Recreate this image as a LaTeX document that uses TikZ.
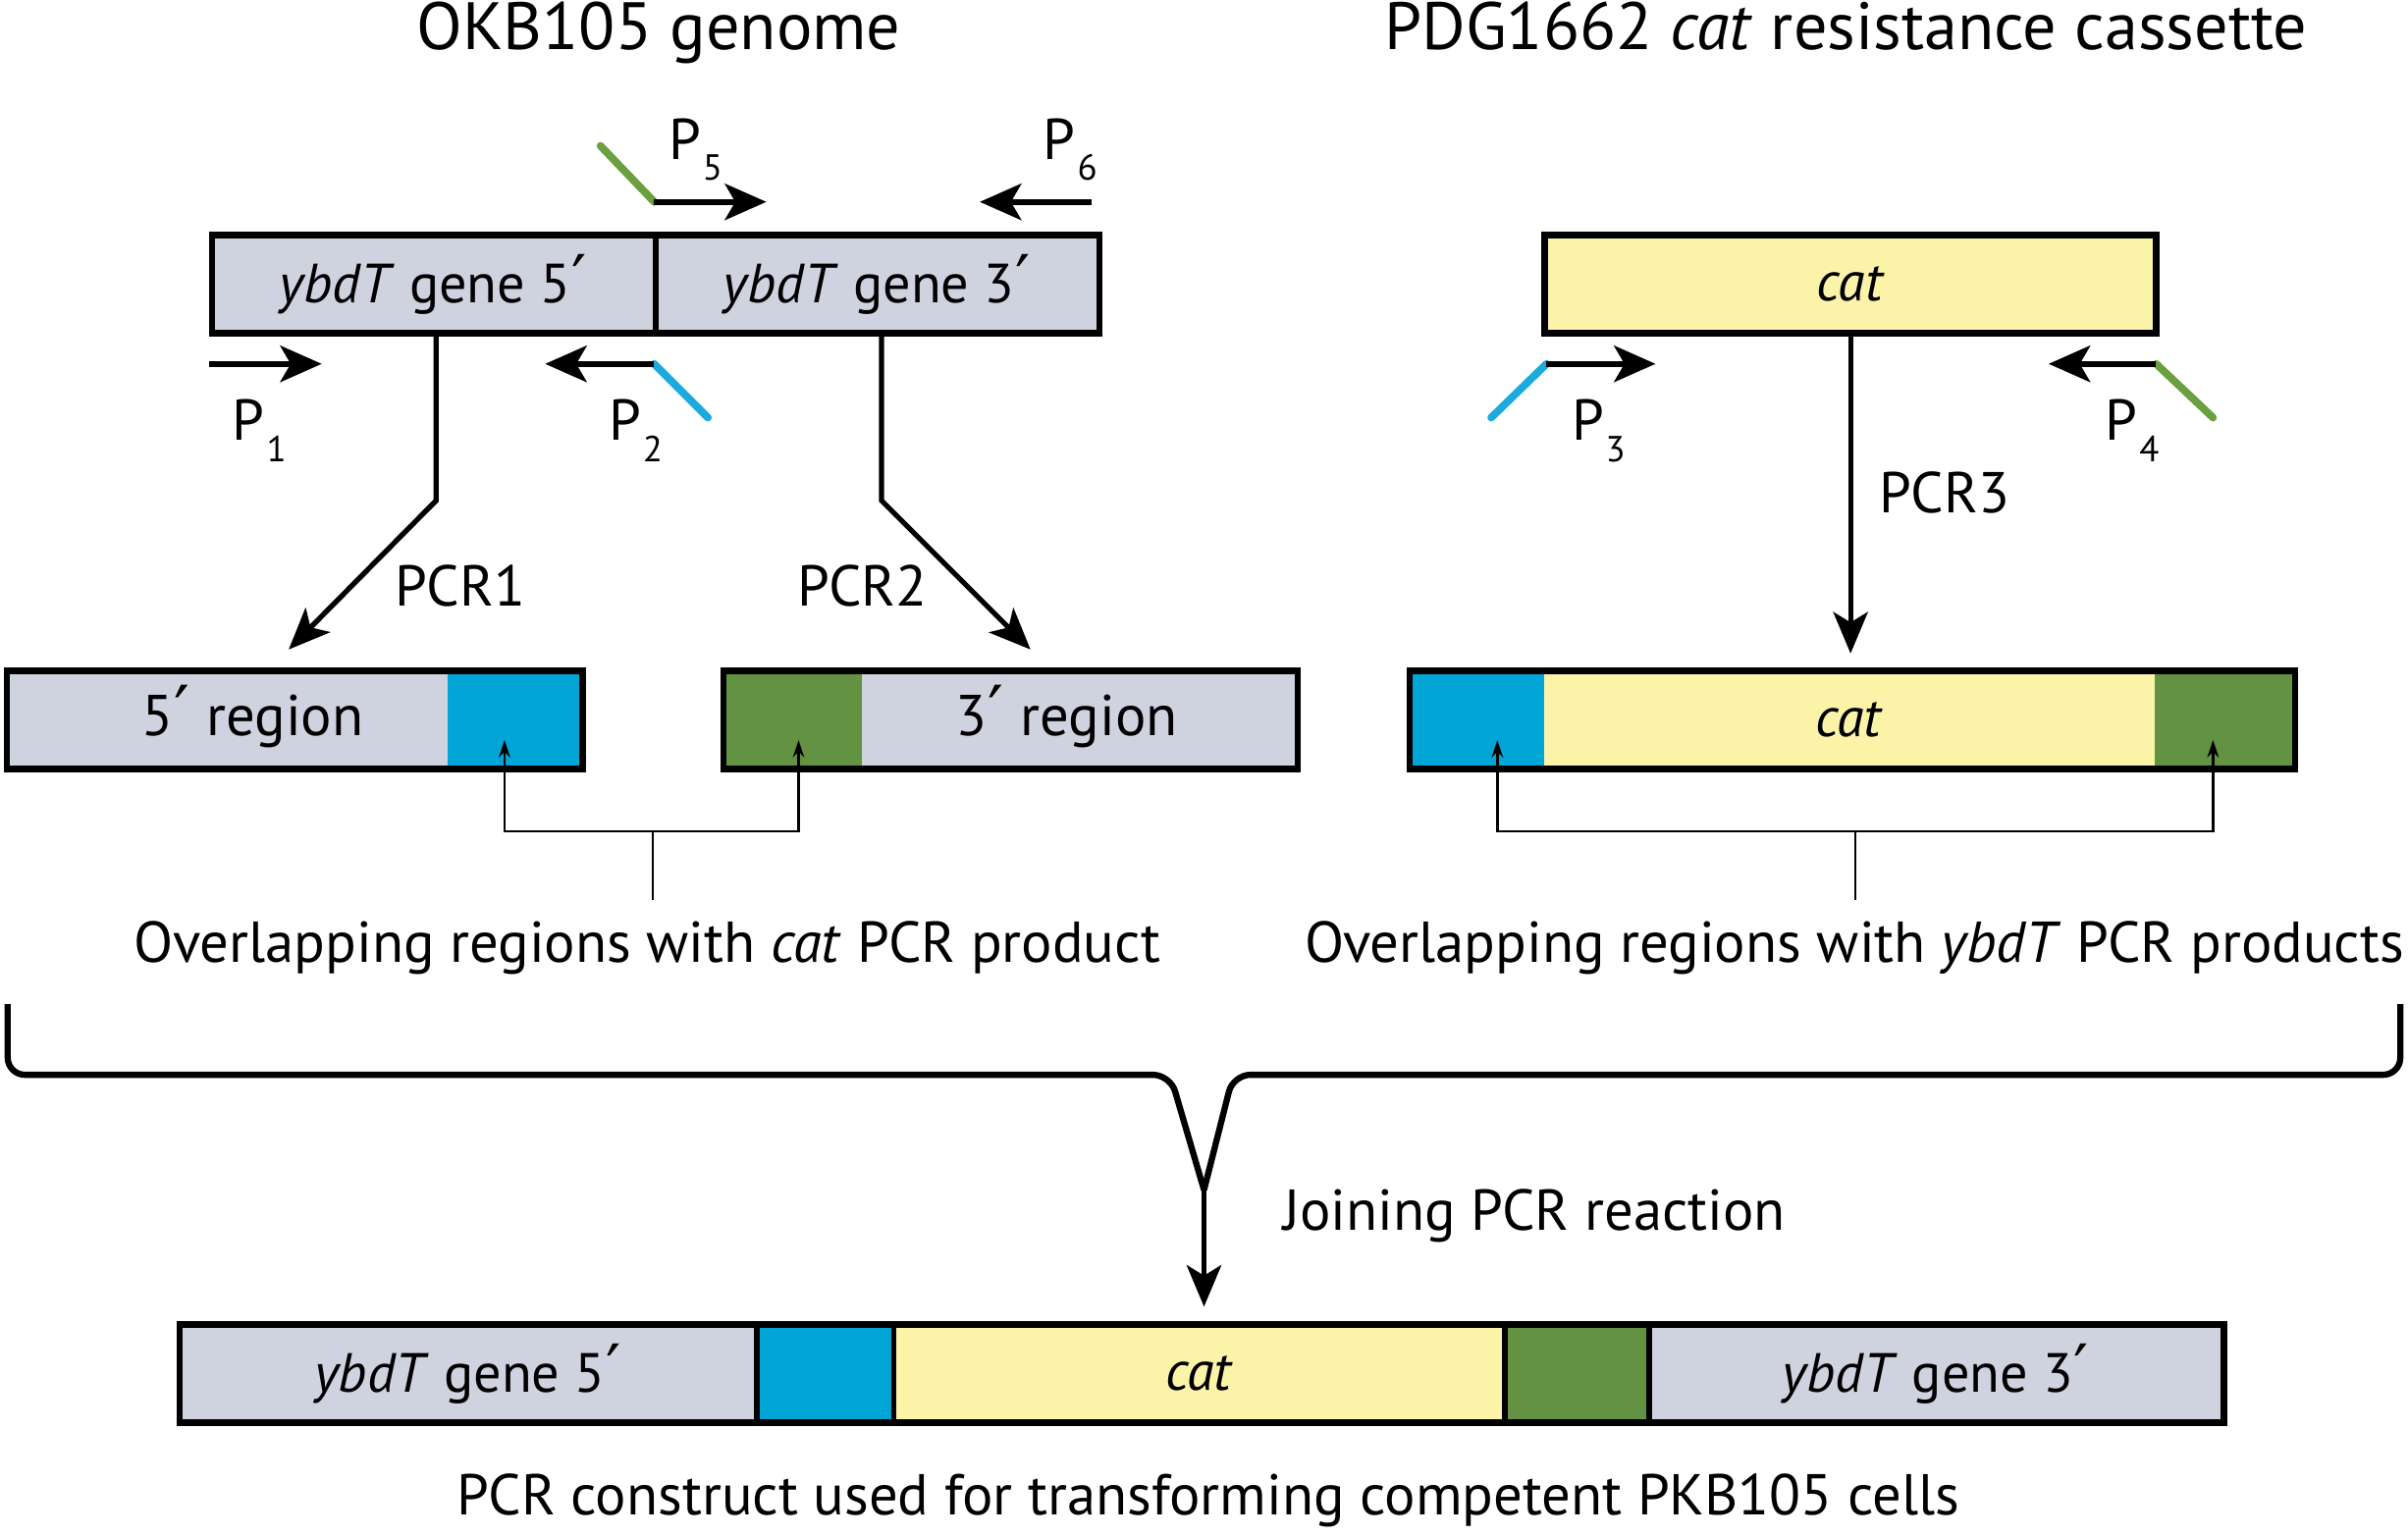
\documentclass[tikz,border=0pt]{standalone}
\usepackage{fontspec}
\setmainfont{PT Sans}
\newfontfamily\dvs{DejaVu Sans}
\usetikzlibrary{arrows.meta}
\newcommand{\dpx}{0.015645cm}
\newcommand{\lbl}{\fontsize{16.7}{20}\selectfont}
\newcommand{\seglbl}{\fontsize{16}{19}\selectfont}
\newcommand{\ttl}{\fontsize{19.4}{23}\selectfont}
\newcommand{\prm}[1]{P\kern0.5pt\raisebox{-6pt}{\fontsize{10.5}{12}\selectfont #1}}
\newcommand{\pri}{{\dvs\kern0.3pt\scalebox{1.2}{′}\kern0.5pt}}
\definecolor{genegray}{RGB}{207,210,223}
\definecolor{oblue}{RGB}{0,165,214}
\definecolor{ogreen}{RGB}{98,146,66}
\definecolor{catyel}{RGB}{250,243,168}
\definecolor{tblue}{RGB}{27,170,222}
\definecolor{tgreen}{RGB}{106,160,64}

\tikzset{
	seg/.style={fill=#1, minimum height=64*\dpx, inner sep=0pt, outer sep=0pt, anchor=west, font=\seglbl},
	cut/.style={draw, line width=1.6pt},
	frame/.style={draw, line width=1.9pt},
	txt/.style={anchor=base, inner sep=0pt, font=\lbl},
	plbl/.style={anchor=base west, inner sep=0pt, font=\lbl},
	prim/.style={line width=1.8pt, -{Stealth[length=12pt, width=10.5pt, inset=3pt]}},
	tail/.style={line width=2.2pt, line cap=round},
	pcr/.style={line width=1.5pt, -{Stealth[length=12pt, width=10pt, inset=3pt]}},
	ovl/.style={line width=0.7pt, {Stealth[length=5pt, width=3.3pt]}-{Stealth[length=5pt, width=3.3pt]}},
	brace/.style={line width=1.8pt, rounded corners=5pt}
}

\begin{document}
\begin{tikzpicture}[x=\dpx, y=-\dpx]
	\useasboundingbox (0,0) rectangle (1568,1000);

	\node[txt, font=\ttl] (okb) at (429,32.6) {OKB105 genome};
	\node[txt, font=\ttl] (pdg) at (1202,32.6) {PDG1662 \textit{cat} resistance cassette};

	\node[seg=genegray, cut, minimum width=289*\dpx] (g5) at (138,185) {\textit{ybdT} gene 5\pri};
	\node[seg=genegray, cut, minimum width=289*\dpx] (g3) at (g5.east) {\textit{ybdT} gene 3\pri};
	\draw[frame] (g5.north west) rectangle (g3.south east);
	\node[seg=catyel, frame, minimum width=398*\dpx] (cat) at (1006,185) {\textit{cat}};

	\coordinate (p5) at (426,131.5);
	\coordinate (p6) at (711,131.5);
	\coordinate (p1) at (136,237);
	\coordinate (p2) at (426,237);
	\coordinate (p3) at (1007,237);
	\coordinate (p4) at (1404,237);
	\draw[tail, tgreen] (p5) -- ++(-35,-36.5);
	\draw[prim] (p5) -- ++(73,0);
	\draw[prim] (p6) -- ++(-73,0);
	\draw[prim] (p1) -- ++(73.5,0);
	\draw[tail, tblue] (p2) -- ++(35,35);
	\draw[prim] (p2) -- ++(-71,0);
	\draw[tail, tblue] (p3) -- ++(-36,35);
	\draw[prim] (p3) -- ++(71,0);
	\draw[tail, tgreen] (p4) -- ++(37,35);
	\draw[prim] (p4) -- ++(-70,0);
	\node[plbl] (n5) at (435,104) {\prm{5}};
	\node[plbl] (n6) at (679,104) {\prm{6}};
	\node[plbl] (n1) at (151,287) {\prm{1}};
	\node[plbl] (n2) at (396,287) {\prm{2}};
	\node[plbl] (n3) at (1023,287) {\prm{3}};
	\node[plbl] (n4) at (1370.5,287) {\prm{4}};

	\coordinate (k1) at (284,326);
	\coordinate (e1) at (188,423);
	\coordinate (k2) at (574,326);
	\coordinate (e2) at (671,423);
	\coordinate (e3) at (1205,425.6);
	\draw[pcr] (k1 |- g5.south) -- (k1) -- (e1);
	\draw[pcr] (k2 |- g3.south) -- (k2) -- (e2);
	\draw[pcr] (cat.south) -- (e3);
	\node[plbl] (l1) at (257,394.6) {PCR1};
	\node[plbl] (l2) at (519,394.6) {PCR2};
	\node[plbl] (l3) at (1223.5,334) {PCR3};

	\node[seg=genegray, minimum width=287*\dpx] (r5) at (4.5,469) {};
	\node[seg=oblue, minimum width=88*\dpx] (b5) at (r5.east) {};
	\draw[frame] (r5.north west) rectangle (b5.south east);
	\node[txt] (t5) at (164.5,479.4) {5\pri{} region};
	\node[seg=ogreen, minimum width=90.5*\dpx] (c3) at (471,469) {};
	\node[seg=genegray, minimum width=283.5*\dpx] (r3) at (c3.east) {};
	\draw[frame] (c3.north west) rectangle (r3.south east);
	\node[txt] (t3) at (694.5,479.4) {3\pri{} region};
	\node[seg=oblue, minimum width=87.5*\dpx] (pb) at (918,469) {};
	\node[seg=catyel, minimum width=397.5*\dpx] (py) at (pb.east) {\textit{cat}};
	\node[seg=ogreen, minimum width=91.5*\dpx] (pg) at (py.east) {};
	\draw[frame] (pb.north west) rectangle (pg.south east);

	\coordinate (a1) at (328.5,482);
	\coordinate (a2) at (520,482);
	\coordinate (j1) at (425,541.5);
	\coordinate (s1) at (425,586);
	\coordinate (a3) at (975,482);
	\coordinate (a4) at (1441,482);
	\coordinate (j2) at (1208,541.5);
	\coordinate (s2) at (1208,586);
	\draw[ovl] (a1) |- (j1) -| (a2);
	\draw[line width=0.7pt] (j1) -- (s1);
	\draw[ovl] (a3) |- (j2) -| (a4);
	\draw[line width=0.7pt] (j2) -- (s2);
	\node[txt] (o1) at (421.5,626.7) {Overlapping regions with \textit{cat} PCR product};
	\node[txt] (o2) at (1207.5,626.7) {Overlapping regions with \textit{ybdT} PCR products};

	\coordinate (v) at (784,775);
	\draw[brace] (5,654) -- (5,700) -- (762,700) -- (v);
	\draw[brace] (v) -- (803,700) -- (1563,700) -- (1563,654);
	\coordinate (e4) at (784,851);
	\draw[pcr] (v) -- (e4);
	\node[plbl] (jn) at (835,801) {Joining PCR reaction};

	\node[seg=genegray, cut, minimum width=376*\dpx] (f5) at (117,894.5) {\textit{ybdT} gene 5\pri};
	\node[seg=oblue, cut, minimum width=89*\dpx] (fb) at (f5.east) {};
	\node[seg=catyel, cut, minimum width=398*\dpx] (fy) at (fb.east) {\textit{cat}};
	\node[seg=ogreen, cut, minimum width=94*\dpx] (fg) at (fy.east) {};
	\node[seg=genegray, cut, minimum width=374*\dpx] (f3) at (fg.east) {\textit{ybdT} gene 3\pri};
	\draw[frame] (f5.north west) rectangle (f3.south east);
	\node[txt] (cap) at (787,986.5) {PCR construct used for transforming competent PKB105 cells};
\end{tikzpicture}
\end{document}
